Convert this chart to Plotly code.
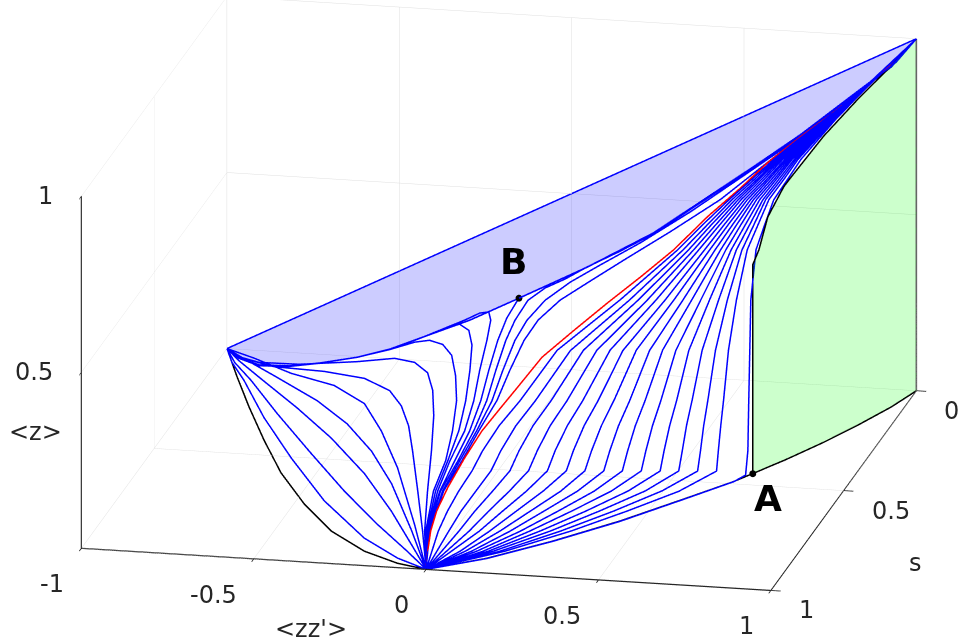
import plotly.graph_objects as go

# ---------------- data (x = <zz'>, s, z = <z>) ----------------
START = (0.0, 1.0, 0.0)
CORNER_L = (-1.0, 0.0, 0.0)
CORNER_T = (1.0, 0.0, 1.0)

point_A = (0.713, 0.445, 0.0)
point_B = (0.101, 0.602, 0.551)

# floor boundary curves (z = 0)
black_left = [CORNER_L, (-0.915, 0.132, 0.0), (-0.820, 0.274, 0.0), (-0.711, 0.429, 0.0),
              (-0.599, 0.579, 0.0), (-0.471, 0.722, 0.0), (-0.341, 0.844, 0.0),
              (-0.208, 0.931, 0.0), (-0.092, 0.979, 0.0), START]
black_bottom = [START, (0.146, 0.929, 0.0), (0.295, 0.827, 0.0), (0.441, 0.711, 0.0),
                (0.581, 0.580, 0.0), (0.676, 0.489, 0.0), point_A]

# green face: floor trace (x, s) and height of its upper edge
green_x = [0.713, 0.725, 0.742, 0.773, 0.786, 0.847, 0.907, 0.963, 1.0]
green_s = [0.445, 0.431, 0.410, 0.373, 0.356, 0.274, 0.182, 0.085, 0.0]
green_ztop = [0.593, 0.628, 0.711, 0.778, 0.795, 0.870, 0.926, 0.969, 1.0]

# blue face: lies in plane <zz'> = 2<z> - 1, from s = 0 up to the edge curve
blue_z = [0.0, 0.054, 0.095, 0.162, 0.222, 0.295, 0.352, 0.399, 0.479, 0.551,
          0.649, 0.738, 0.794, 0.850, 0.901, 0.950, 0.989, 1.0]
blue_s = [0.0, 0.140, 0.229, 0.338, 0.417, 0.501, 0.549, 0.568, 0.601, 0.602,
          0.599, 0.566, 0.487, 0.408, 0.326, 0.209, 0.119, 0.0]
blue_x = [-1.0, -0.892, -0.810, -0.676, -0.556, -0.410, -0.296, -0.202, -0.042, 0.102,
          0.298, 0.476, 0.588, 0.700, 0.802, 0.900, 0.978, 1.0]

# trajectories ending in the left corner
fan_l1 = [CORNER_L, (-0.710, 0.652, 0.348), (-0.662, 0.683, 0.317), (-0.577, 0.747, 0.253),
          (-0.469, 0.816, 0.184), (-0.342, 0.889, 0.111), (-0.200, 0.951, 0.049),
          (-0.090, 0.983, 0.017), START]
fan_l2 = [CORNER_L, (-0.702, 0.652, 0.348), (-0.642, 0.682, 0.318), (-0.543, 0.738, 0.262),
          (-0.415, 0.806, 0.194), (-0.293, 0.869, 0.131), (-0.173, 0.925, 0.075),
          (-0.067, 0.970, 0.030), START]
fan_l3 = [CORNER_L, (-0.692, 0.648, 0.352), (-0.615, 0.678, 0.322), (-0.490, 0.726, 0.274),
          (-0.370, 0.776, 0.224), (-0.248, 0.836, 0.164), (-0.143, 0.900, 0.100),
          (-0.061, 0.957, 0.043), START]
fan_l4 = [CORNER_L, (-0.675, 0.645, 0.355), (-0.580, 0.671, 0.329), (-0.438, 0.711, 0.289),
          (-0.335, 0.749, 0.251), (-0.245, 0.795, 0.205), (-0.163, 0.851, 0.149),
          (-0.070, 0.933, 0.067), START]
fan_l5 = [CORNER_L, (-0.650, 0.642, 0.358), (-0.533, 0.665, 0.335), (-0.401, 0.682, 0.318),
          (-0.301, 0.711, 0.289), (-0.232, 0.758, 0.242), (-0.158, 0.822, 0.178),
          (-0.067, 0.921, 0.079), START]

hook_1 = [START, (-0.039, 0.932, 0.068), (-0.083, 0.861, 0.139), (-0.128, 0.790, 0.210),
          (-0.158, 0.746, 0.254), (-0.194, 0.711, 0.289), (-0.239, 0.685, 0.315),
          (-0.320, 0.666, 0.334), (-0.440, 0.658, 0.342), (-0.587, 0.655, 0.345),
          (-0.679, 0.644, 0.356), CORNER_L]
hook_2 = [START, (-0.033, 0.932, 0.068), (-0.055, 0.860, 0.140), (-0.074, 0.788, 0.212),
          (-0.094, 0.725, 0.275), (-0.116, 0.680, 0.320), (-0.144, 0.649, 0.351),
          (-0.189, 0.632, 0.368), (-0.249, 0.627, 0.373), (-0.353, 0.637, 0.363),
          (-0.517, 0.648, 0.352), (-0.633, 0.649, 0.351), (-0.695, 0.641, 0.359), CORNER_L]
hook_tail = [(-0.270, 0.612, 0.388), (-0.356, 0.629, 0.371), (-0.460, 0.644, 0.356),
             (-0.544, 0.653, 0.347), (-0.631, 0.655, 0.345), (-0.693, 0.644, 0.356), CORNER_L]
hook_3 = [START, (-0.030, 0.932, 0.068), (-0.038, 0.859, 0.141), (-0.026, 0.804, 0.196),
          (-0.029, 0.750, 0.250), (-0.040, 0.696, 0.304), (-0.062, 0.651, 0.349),
          (-0.088, 0.616, 0.385), (-0.122, 0.597, 0.403), (-0.163, 0.591, 0.409),
          (-0.204, 0.596, 0.404)]
hook_4 = [START, (-0.027, 0.932, 0.068), (-0.032, 0.859, 0.141), (-0.020, 0.804, 0.196),
          (-0.011, 0.749, 0.251), (-0.014, 0.695, 0.305), (-0.025, 0.640, 0.360),
          (-0.038, 0.595, 0.405), (-0.058, 0.569, 0.431), (-0.089, 0.559, 0.441),
          (-0.129, 0.568, 0.432), (-0.193, 0.589, 0.411)]
hook_5 = [START, (-0.025, 0.932, 0.068), (-0.026, 0.859, 0.141), (-0.014, 0.804, 0.196),
          (0.006, 0.749, 0.252), (0.009, 0.694, 0.306), (0.003, 0.639, 0.361),
          (0.001, 0.585, 0.415), (-0.003, 0.549, 0.452), (-0.015, 0.534, 0.466),
          (-0.040, 0.537, 0.463), (-0.077, 0.551, 0.449), (-0.129, 0.568, 0.432),
          (-0.193, 0.589, 0.411)]

line_to_B = [START, (-0.025, 0.932, 0.068), (-0.020, 0.859, 0.141), (0.000, 0.803, 0.197),
             (0.020, 0.748, 0.252), (0.029, 0.693, 0.307), (0.029, 0.638, 0.362),
             (0.032, 0.584, 0.416), (0.041, 0.543, 0.457), point_B]

# trajectories reaching the blue edge right of B and sliding to the top corner
ridge_1 = [START, (-0.022, 0.932, 0.068), (-0.018, 0.859, 0.141), (0.009, 0.803, 0.197),
           (0.032, 0.748, 0.253), (0.046, 0.692, 0.308), (0.049, 0.638, 0.362),
           (0.055, 0.583, 0.417), (0.066, 0.546, 0.454), (0.088, 0.509, 0.491),
           (0.128, 0.485, 0.515), (0.178, 0.467, 0.533), (0.232, 0.443, 0.557),
           (0.315, 0.411, 0.589), (0.396, 0.377, 0.623), (0.515, 0.312, 0.688),
           (0.633, 0.248, 0.753), (0.743, 0.185, 0.815), (0.858, 0.111, 0.889),
           (0.950, 0.053, 0.947), CORNER_T]
ridge_2 = [START, (-0.020, 0.932, 0.068), (-0.012, 0.858, 0.142), (0.014, 0.803, 0.197),
           (0.040, 0.747, 0.253), (0.061, 0.692, 0.308), (0.069, 0.637, 0.363),
           (0.081, 0.582, 0.418), (0.100, 0.545, 0.455), (0.137, 0.507, 0.493),
           (0.195, 0.472, 0.528), (0.268, 0.438, 0.562), (0.366, 0.394, 0.606),
           (0.486, 0.333, 0.667), (0.603, 0.267, 0.733), (0.721, 0.200, 0.800),
           (0.835, 0.127, 0.873), (0.938, 0.061, 0.939), CORNER_T]
ridge_3 = [START, (-0.019, 0.932, 0.068), (-0.009, 0.858, 0.142), (0.020, 0.803, 0.197),
           (0.046, 0.747, 0.253), (0.075, 0.691, 0.309), (0.089, 0.636, 0.364),
           (0.107, 0.581, 0.419), (0.132, 0.543, 0.457), (0.180, 0.505, 0.495),
           (0.251, 0.468, 0.532), (0.335, 0.425, 0.575), (0.443, 0.371, 0.629),
           (0.562, 0.308, 0.692), (0.653, 0.247, 0.753), (0.767, 0.171, 0.829),
           (0.881, 0.098, 0.902), (0.960, 0.044, 0.956), CORNER_T]

red_line = [START, (-0.009, 0.968, 0.032), (-0.016, 0.931, 0.069), (-0.014, 0.895, 0.105),
            (0.000, 0.852, 0.148), (0.026, 0.797, 0.203), (0.055, 0.747, 0.253),
            (0.090, 0.705, 0.295), (0.119, 0.671, 0.329), (0.171, 0.609, 0.391),
            (0.240, 0.559, 0.441), (0.317, 0.505, 0.495), (0.392, 0.455, 0.545),
            (0.466, 0.403, 0.597), (0.538, 0.340, 0.660), (0.611, 0.285, 0.715),
            (0.669, 0.237, 0.763), (0.744, 0.187, 0.813), (0.820, 0.140, 0.860),
            (0.910, 0.077, 0.923), (0.959, 0.042, 0.958), CORNER_T]

# trajectories going directly to the top corner (right of the red one)
fan_r01 = [START, (0.006, 0.930, 0.070), (0.017, 0.894, 0.106), (0.034, 0.857, 0.143),
           (0.057, 0.819, 0.181), (0.072, 0.782, 0.218), (0.100, 0.736, 0.264),
           (0.141, 0.689, 0.311), (0.209, 0.595, 0.405), (0.351, 0.498, 0.502),
           (0.477, 0.403, 0.597), (0.530, 0.355, 0.645), (0.586, 0.308, 0.692),
           (0.636, 0.269, 0.731), (0.683, 0.231, 0.769), (0.738, 0.193, 0.807),
           (0.799, 0.154, 0.846), (0.884, 0.096, 0.904), CORNER_T]
fan_r02 = [START, (0.036, 0.929, 0.071), (0.056, 0.892, 0.108), (0.083, 0.855, 0.145),
           (0.111, 0.817, 0.183), (0.124, 0.780, 0.220), (0.148, 0.734, 0.266),
           (0.185, 0.687, 0.313), (0.247, 0.594, 0.406), (0.377, 0.498, 0.502),
           (0.493, 0.402, 0.598), (0.543, 0.355, 0.645), (0.595, 0.307, 0.693),
           (0.643, 0.269, 0.731), (0.688, 0.231, 0.769), (0.742, 0.192, 0.808),
           (0.801, 0.154, 0.846), (0.884, 0.096, 0.904), CORNER_T]
fan_r03 = [START, (0.065, 0.928, 0.072), (0.095, 0.891, 0.109), (0.131, 0.853, 0.147),
           (0.165, 0.815, 0.185), (0.176, 0.778, 0.222), (0.197, 0.732, 0.268),
           (0.230, 0.685, 0.315), (0.284, 0.592, 0.408), (0.402, 0.497, 0.503),
           (0.508, 0.402, 0.598), (0.555, 0.354, 0.646), (0.604, 0.307, 0.693),
           (0.650, 0.269, 0.731), (0.693, 0.231, 0.769), (0.746, 0.192, 0.808),
           (0.803, 0.154, 0.846), (0.885, 0.096, 0.904), CORNER_T]
fan_r04 = [START, (0.094, 0.927, 0.073), (0.135, 0.889, 0.111), (0.179, 0.851, 0.149),
           (0.218, 0.813, 0.187), (0.228, 0.776, 0.224), (0.246, 0.730, 0.270),
           (0.275, 0.684, 0.316), (0.322, 0.591, 0.409), (0.428, 0.496, 0.504),
           (0.523, 0.401, 0.599), (0.567, 0.354, 0.646), (0.613, 0.306, 0.694),
           (0.657, 0.268, 0.732), (0.699, 0.230, 0.770), (0.750, 0.192, 0.808),
           (0.805, 0.154, 0.846), (0.885, 0.096, 0.904), CORNER_T]
fan_r05 = [START, (0.123, 0.926, 0.074), (0.174, 0.888, 0.112), (0.228, 0.849, 0.151),
           (0.272, 0.811, 0.189), (0.279, 0.774, 0.226), (0.295, 0.728, 0.272),
           (0.320, 0.682, 0.318), (0.360, 0.589, 0.411), (0.453, 0.495, 0.505),
           (0.538, 0.400, 0.600), (0.579, 0.353, 0.647), (0.621, 0.306, 0.694),
           (0.664, 0.268, 0.732), (0.704, 0.230, 0.770), (0.754, 0.192, 0.808),
           (0.808, 0.154, 0.846), (0.886, 0.096, 0.904), CORNER_T]
fan_r06 = [START, (0.083, 0.964, 0.036), (0.152, 0.925, 0.075), (0.214, 0.886, 0.114),
           (0.276, 0.847, 0.153), (0.326, 0.809, 0.191), (0.331, 0.772, 0.228),
           (0.343, 0.726, 0.274), (0.364, 0.680, 0.320), (0.397, 0.588, 0.412),
           (0.479, 0.494, 0.506), (0.554, 0.400, 0.600), (0.591, 0.353, 0.647),
           (0.630, 0.306, 0.694), (0.671, 0.268, 0.732), (0.709, 0.230, 0.770),
           (0.758, 0.192, 0.808), (0.810, 0.154, 0.846), (0.886, 0.096, 0.904), CORNER_T]
fan_r07 = [START, (0.099, 0.963, 0.037), (0.181, 0.924, 0.076), (0.253, 0.885, 0.115),
           (0.325, 0.846, 0.154), (0.379, 0.807, 0.193), (0.383, 0.770, 0.230),
           (0.392, 0.725, 0.275), (0.409, 0.678, 0.322), (0.435, 0.586, 0.414),
           (0.504, 0.493, 0.507), (0.569, 0.399, 0.601), (0.603, 0.352, 0.648),
           (0.639, 0.305, 0.695), (0.678, 0.268, 0.732), (0.715, 0.230, 0.770),
           (0.762, 0.192, 0.808), (0.812, 0.153, 0.847), (0.887, 0.096, 0.904), CORNER_T]
fan_r08 = [START, (0.115, 0.963, 0.037), (0.210, 0.923, 0.077), (0.293, 0.883, 0.117),
           (0.373, 0.844, 0.156), (0.433, 0.805, 0.195), (0.435, 0.768, 0.232),
           (0.441, 0.723, 0.277), (0.454, 0.677, 0.323), (0.473, 0.585, 0.415),
           (0.530, 0.492, 0.508), (0.584, 0.399, 0.601), (0.615, 0.352, 0.648),
           (0.648, 0.305, 0.695), (0.685, 0.267, 0.733), (0.720, 0.230, 0.770),
           (0.766, 0.191, 0.809), (0.814, 0.153, 0.847), (0.887, 0.096, 0.904), CORNER_T]
fan_r09 = [START, (0.131, 0.962, 0.038), (0.239, 0.922, 0.078), (0.332, 0.882, 0.118),
           (0.421, 0.842, 0.158), (0.486, 0.803, 0.197), (0.486, 0.767, 0.233),
           (0.489, 0.721, 0.279), (0.498, 0.675, 0.325), (0.510, 0.583, 0.417),
           (0.555, 0.491, 0.509), (0.600, 0.398, 0.602), (0.627, 0.351, 0.649),
           (0.656, 0.305, 0.695), (0.692, 0.267, 0.733), (0.726, 0.229, 0.771),
           (0.770, 0.191, 0.809), (0.817, 0.153, 0.847), (0.888, 0.096, 0.904), CORNER_T]
fan_r10 = [START, (0.147, 0.962, 0.038), (0.268, 0.920, 0.080), (0.372, 0.880, 0.120),
           (0.470, 0.840, 0.160), (0.540, 0.801, 0.199), (0.538, 0.765, 0.235),
           (0.538, 0.719, 0.281), (0.543, 0.673, 0.327), (0.548, 0.582, 0.418),
           (0.581, 0.490, 0.510), (0.615, 0.397, 0.603), (0.639, 0.351, 0.649),
           (0.665, 0.304, 0.696), (0.699, 0.267, 0.733), (0.731, 0.229, 0.771),
           (0.774, 0.191, 0.809), (0.819, 0.153, 0.847), (0.888, 0.096, 0.904), CORNER_T]
fan_r11 = [START, (0.163, 0.961, 0.039), (0.297, 0.919, 0.081), (0.411, 0.879, 0.121),
           (0.518, 0.838, 0.162), (0.594, 0.799, 0.201), (0.590, 0.763, 0.237),
           (0.587, 0.717, 0.283), (0.588, 0.672, 0.328), (0.585, 0.581, 0.419),
           (0.606, 0.489, 0.511), (0.630, 0.397, 0.603), (0.652, 0.350, 0.650),
           (0.674, 0.304, 0.696), (0.706, 0.266, 0.734), (0.736, 0.229, 0.771),
           (0.778, 0.190, 0.810), (0.821, 0.153, 0.847), (0.889, 0.096, 0.904), CORNER_T]
fan_r12 = [START, (0.179, 0.960, 0.040), (0.326, 0.918, 0.082), (0.451, 0.877, 0.123),
           (0.567, 0.836, 0.164), (0.647, 0.797, 0.203), (0.642, 0.761, 0.239),
           (0.635, 0.715, 0.285), (0.632, 0.670, 0.330), (0.623, 0.579, 0.421),
           (0.632, 0.488, 0.512), (0.645, 0.396, 0.604), (0.664, 0.350, 0.650),
           (0.683, 0.304, 0.696), (0.713, 0.266, 0.734), (0.742, 0.229, 0.771),
           (0.782, 0.190, 0.810), (0.823, 0.152, 0.848), (0.890, 0.096, 0.904), CORNER_T]
fan_r13 = [START, (0.195, 0.960, 0.040), (0.355, 0.917, 0.083), (0.490, 0.876, 0.124),
           (0.615, 0.834, 0.166), (0.701, 0.795, 0.205), (0.694, 0.759, 0.241),
           (0.684, 0.713, 0.287), (0.677, 0.668, 0.332), (0.661, 0.578, 0.422),
           (0.657, 0.487, 0.513), (0.661, 0.396, 0.604), (0.676, 0.350, 0.650),
           (0.691, 0.303, 0.697), (0.720, 0.266, 0.734), (0.747, 0.229, 0.771),
           (0.786, 0.190, 0.810), (0.826, 0.152, 0.848), (0.890, 0.096, 0.904), CORNER_T]
fan_r14 = [START, (0.211, 0.959, 0.041), (0.384, 0.916, 0.084), (0.530, 0.874, 0.126),
           (0.663, 0.833, 0.167), (0.755, 0.793, 0.207), (0.745, 0.757, 0.243),
           (0.733, 0.712, 0.288), (0.722, 0.667, 0.333), (0.698, 0.576, 0.424),
           (0.683, 0.486, 0.514), (0.676, 0.395, 0.605), (0.688, 0.349, 0.651),
           (0.700, 0.303, 0.697), (0.727, 0.266, 0.734), (0.753, 0.228, 0.772),
           (0.790, 0.190, 0.810), (0.828, 0.152, 0.848), (0.891, 0.096, 0.904), CORNER_T]
wall_line = [START, (0.165, 0.974, 0.026), (0.341, 0.936, 0.064), (0.518, 0.893, 0.107),
             (0.693, 0.844, 0.156), (0.812, 0.810, 0.190), (0.841, 0.797, 0.203),
             (0.829, 0.753, 0.247), (0.794, 0.664, 0.336), (0.759, 0.574, 0.426),
             (0.724, 0.484, 0.516), (0.701, 0.394, 0.606), (0.707, 0.348, 0.652),
             (0.714, 0.303, 0.697), (0.738, 0.265, 0.735), (0.761, 0.228, 0.772),
             (0.796, 0.190, 0.810), (0.831, 0.152, 0.848), (0.892, 0.095, 0.905), CORNER_T]

x_ticks = [-1, -0.5, 0, 0.5, 1]
x_labels = ["-1", "-0.5", "0", "0.5", "1"]
s_ticks = [0, 0.5, 1]
s_labels = ["0", "0.5", "1"]
z_ticks = [0.5, 1]
z_labels = ["0.5", "1"]

# ---------------- figure ----------------
BLUE = "rgb(0,0,255)"
TXT = "rgb(38,38,38)"
FONT = "DejaVu Sans"


def ys(svals):
    # s axis runs from 1 (front) to 0 (back)
    return [1.0 - v for v in svals]


fig = go.Figure()


def add_curve(pts, color, width):
    fig.add_trace(go.Scatter3d(
        x=[p[0] for p in pts], y=ys([p[1] for p in pts]), z=[p[2] for p in pts],
        mode="lines", line=dict(color=color, width=width),
        hoverinfo="skip", showlegend=False))


flat = dict(ambient=1.0, diffuse=0.0, specular=0.0, roughness=1.0, fresnel=0.0)

# blue face
n_b = len(blue_z)
fig.add_trace(go.Surface(
    x=[blue_x, blue_x], y=[ys([0.0] * n_b), ys(blue_s)], z=[blue_z, blue_z],
    surfacecolor=[[0.0] * n_b, [0.0] * n_b], cmin=0, cmax=1,
    colorscale=[[0, BLUE], [1, BLUE]], showscale=False, opacity=0.2,
    lighting=flat, hoverinfo="skip"))
# green face
n_g = len(green_x)
fig.add_trace(go.Surface(
    x=[green_x, green_x], y=[ys(green_s), ys(green_s)], z=[[0.0] * n_g, green_ztop],
    surfacecolor=[[0.0] * n_g, [0.0] * n_g], cmin=0, cmax=1,
    colorscale=[[0, "rgb(0,255,0)"], [1, "rgb(0,255,0)"]], showscale=False, opacity=0.2,
    lighting=flat, hoverinfo="skip"))

# outlines of the faces
add_curve([CORNER_L, CORNER_T], BLUE, 3)
add_curve(list(zip(blue_x, blue_s, blue_z)), BLUE, 3.2)
add_curve(black_left, "black", 3)
add_curve(black_bottom, "black", 3)
add_curve(list(zip(green_x, green_s, [0.0] * n_g)), "black", 3)
add_curve([(green_x[0], green_s[0], 0.0)] + list(zip(green_x, green_s, green_ztop)), "black", 3)
add_curve([(1.0, 0.0, 0.0), (1.0, 0.0, 1.0)], "rgb(60,60,60)", 3)

blue_curves = [fan_l1, fan_l2, fan_l3, fan_l4, fan_l5,
               hook_1, hook_2, hook_3 + hook_tail, hook_4 + hook_tail, hook_5 + hook_tail,
               line_to_B, ridge_1, ridge_2, ridge_3,
               fan_r01, fan_r02, fan_r03, fan_r04, fan_r05, fan_r06, fan_r07,
               fan_r08, fan_r09, fan_r10, fan_r11, fan_r12, fan_r13, fan_r14, wall_line]
for c in blue_curves:
    add_curve(c, BLUE, 3)
add_curve(red_line, "red", 3)

fig.add_trace(go.Scatter3d(
    x=[point_A[0], point_B[0]], y=ys([point_A[1], point_B[1]]), z=[point_A[2], point_B[2]],
    mode="markers", marker=dict(color="black", size=4),
    hoverinfo="skip", showlegend=False))

axis_common = dict(
    showbackground=False, showgrid=True, gridcolor="rgb(223,223,223)", gridwidth=1,
    showline=True, linecolor=TXT, linewidth=2.5, ticks="outside", ticklen=10, tickwidth=2,
    tickcolor=TXT, showticklabels=False,
    zeroline=False, showspikes=False, title=dict(text=""), autorange=False)

camera = dict(
    eye=dict(x=0.4411, y=-2.3762, z=0.6478),
    center=dict(x=-0.0532, y=-0.0349, z=-0.0765),
    up=dict(x=0, y=0, z=1),
    projection=dict(type="orthographic"))

tick_font = dict(family=FONT, size=24, color=TXT)
annots = []
for v, t in zip(x_ticks, x_labels):
    annots.append(dict(x=v, y=0.0, z=0.0, text=t, showarrow=False, xanchor="right",
                       yanchor="middle", xshift=-15, yshift=-36, font=tick_font))
for v, t in zip(s_ticks, s_labels):
    annots.append(dict(x=1.0, y=1.0 - v, z=0.0, text=t, showarrow=False, xanchor="left",
                       yanchor="middle", xshift=26, yshift=-20, font=tick_font))
for v, t in zip(z_ticks, z_labels):
    annots.append(dict(x=-1.0, y=0.0, z=v, text=t, showarrow=False, xanchor="right",
                       yanchor="middle", xshift=-26, yshift=0, font=tick_font))
annots += [
    dict(x=-0.2, y=0.0, z=0.0, text="&lt;zz'&gt;", showarrow=False, xshift=-46, yshift=-64,
         font=dict(family=FONT, size=24, color=TXT)),
    dict(x=1.0, y=0.5, z=0.0, text="s", showarrow=False, xshift=72, yshift=-72,
         font=dict(family=FONT, size=24, color=TXT)),
    dict(x=-1.0, y=0.0, z=0.33, text="&lt;z&gt;", showarrow=False, xshift=-46, yshift=0,
         font=dict(family=FONT, size=24, color=TXT)),
    dict(x=point_A[0], y=1.0 - point_A[1], z=point_A[2], text="<b>A</b>", showarrow=False,
         xshift=15, yshift=-25, font=dict(family=FONT, size=36, color="black")),
    dict(x=point_B[0], y=1.0 - point_B[1], z=point_B[2], text="<b>B</b>", showarrow=False,
         xshift=-5, yshift=37, font=dict(family=FONT, size=36, color="black")),
]

fig.update_layout(
    width=960, height=638, margin=dict(l=0, r=0, t=0, b=0),
    paper_bgcolor="white", showlegend=False,
    scene=dict(
        domain=dict(x=[0, 1], y=[0, 1]),
        aspectmode="manual", aspectratio=dict(x=2.209, y=2.209, z=1.153),
        xaxis=dict(range=[-1, 1], tickvals=x_ticks, **axis_common),
        yaxis=dict(range=[0, 1], tickvals=ys(s_ticks), **axis_common),
        zaxis=dict(range=[0, 1], tickvals=z_ticks, **axis_common),
        camera=camera, bgcolor="white", annotations=annots))

fig.write_html("out.html", config={"displayModeBar": False},
               post_script="document.body.style.margin='0px';document.body.style.overflow='hidden';")
